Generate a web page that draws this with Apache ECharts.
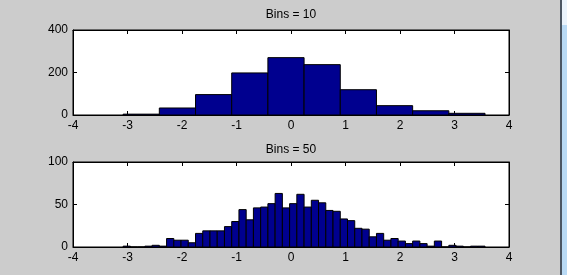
<!DOCTYPE html>
<html>
<head>
<meta charset="utf-8">
<script src="https://cdn.jsdelivr.net/npm/echarts@6/dist/echarts.min.js"></script>
<style>
html,body{margin:0;padding:0;background:#cccccc;}
#c{width:567px;height:275px;}
</style>
</head>
<body>
<div id="c"></div>
<script>
// ---- data ----
const titles = ['Bins = 10', 'Bins = 50'];
const dataMin = -3.08;
const dataMax = 3.56;
const counts10 = [4, 33, 96, 198, 270, 237, 119, 44, 20, 8];
const counts50 = [1, 0, 0, 1, 2, 1, 10, 8, 8, 5,
                  16, 19, 19, 19, 24, 30, 44, 32, 46, 47,
                  51, 63, 46, 51, 62, 47, 55, 52, 43, 42,
                  33, 31, 22, 21, 12, 16, 8, 10, 7, 4,
                  7, 4, 1, 7, 0, 2, 1, 0, 1, 1];
const xTicks = [-4, 4, 1];      // min, max, interval
const yTicksTop = [0, 400, 200];
const yTicksBottom = [0, 100, 50];

function binData(counts) {
  const w = (dataMax - dataMin) / counts.length;
  return counts.map((c, i) => [dataMin + i * w, dataMin + (i + 1) * w, c]);
}

const chart = echarts.init(document.getElementById('c'), null, {renderer: 'canvas'});
const font = 'Liberation Sans, Arial, sans-serif';
const grids = [
  {left: 73, right: 58, top: 30, height: 85},
  {left: 73, right: 58, top: 162, height: 85}
];
const gridsOpt = grids.map(g => Object.assign({show: true, backgroundColor: '#ffffff', borderColor: '#000', borderWidth: 1}, g));

function xAx(gi, pos, showLabel) {
  return {
    type: 'value', gridIndex: gi, position: pos, min: xTicks[0], max: xTicks[1], interval: xTicks[2],
    axisLine: {show: true, onZero: false, lineStyle: {color: '#000', width: 1}},
    axisTick: {show: true, inside: true, length: 4, lineStyle: {color: '#000'}},
    axisLabel: {show: showLabel, color: '#000', fontSize: 12, fontFamily: font, margin: 5},
    splitLine: {show: false}
  };
}
function yAx(gi, pos, t, showLabel) {
  return {
    type: 'value', gridIndex: gi, position: pos, min: t[0], max: t[1], interval: t[2],
    axisLine: {show: true, onZero: false, lineStyle: {color: '#000', width: 1}},
    axisTick: {show: true, inside: true, length: 4, lineStyle: {color: '#000'}},
    axisLabel: {show: showLabel, color: '#000', fontSize: 12, fontFamily: font, margin: 5},
    splitLine: {show: false}
  };
}

function histSeries(counts, xi, yi) {
  return {
    type: 'custom', xAxisIndex: xi, yAxisIndex: yi,
    data: binData(counts),
    encode: {x: [0, 1], y: 2},
    renderItem: function (params, api) {
      const p0 = api.coord([api.value(0), api.value(2)]);
      const p1 = api.coord([api.value(1), 0]);
      return {
        type: 'rect',
        shape: {x: p0[0], y: p0[1], width: p1[0] - p0[0], height: p1[1] - p0[1]},
        style: {fill: '#00008f', stroke: '#000', lineWidth: 1}
      };
    }
  };
}

chart.setOption({
  backgroundColor: '#cccccc',
  animation: false,
  grid: gridsOpt,
  xAxis: [xAx(0, 'bottom', true), xAx(0, 'top', false), xAx(1, 'bottom', true), xAx(1, 'top', false)],
  yAxis: [yAx(0, 'left', yTicksTop, true), yAx(0, 'right', yTicksTop, false),
          yAx(1, 'left', yTicksBottom, true), yAx(1, 'right', yTicksBottom, false)],
  series: [histSeries(counts10, 0, 0), histSeries(counts50, 2, 2)],
  graphic: [
    {type: 'text', x: 291, y: 15, style: {text: titles[0], fill: '#000', font: '12px ' + font, textAlign: 'center', textVerticalAlign: 'middle'}},
    {type: 'text', x: 291, y: 150, style: {text: titles[1], fill: '#000', font: '12px ' + font, textAlign: 'center', textVerticalAlign: 'middle'}},
    {type: 'rect', shape: {x: 560, y: 0, width: 2, height: 275}, style: {fill: '#4b5663'}},
    {type: 'rect', shape: {x: 562, y: 0, width: 5, height: 25}, style: {fill: '#eaf3fc'}},
    {type: 'rect', shape: {x: 562, y: 25, width: 5, height: 250}, style: {fill: '#b9daf5'}}
  ]
});
</script>
</body>
</html>
